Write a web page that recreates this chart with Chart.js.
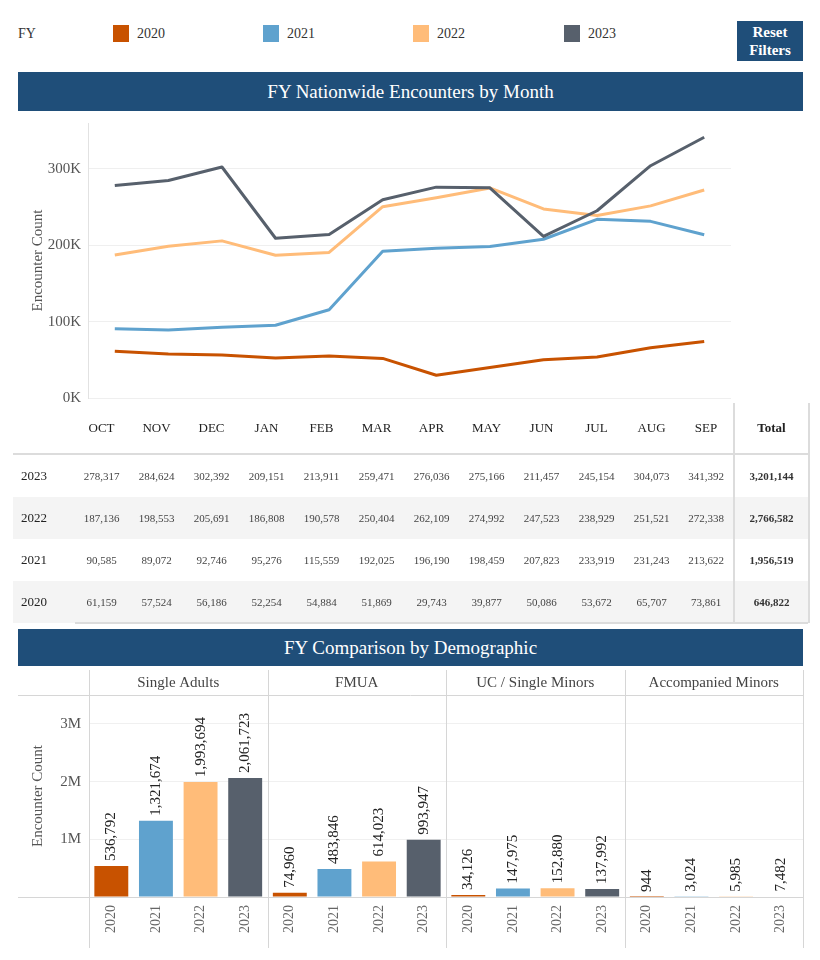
<!DOCTYPE html>
<html>
<head>
<meta charset="utf-8">
<script src="https://cdn.jsdelivr.net/npm/chart.js@4.4.0/dist/chart.umd.min.js"></script>
<style>
  body { margin: 0; width: 820px; height: 960px; position: relative; overflow: hidden; background: #fff;
         font-family: 'Liberation Serif', 'Times New Roman', serif; color: #333; }
  .abs { position: absolute; }
  .legend-label { position: absolute; top: 25px; font-size: 14px; line-height: 18px; color: #333; }
  .swatch { position: absolute; top: 25px; width: 16px; height: 17px; }
  .reset { position: absolute; left: 737px; top: 21px; width: 66px; height: 40px; background: #1f4e79; color: #fff;
           font-weight: bold; font-size: 15px; line-height: 18px; text-align: center; padding-top: 2px; box-sizing: border-box; }
  .titlebar { position: absolute; left: 18px; width: 785px; background: #1f4e79; color: #fff; font-size: 19px; text-align: center; }
  #tbl { position: absolute; left: 13px; top: 403px; border-collapse: collapse; table-layout: fixed; }
  #tbl td { padding: 0; text-align: center; font-size: 11px; color: #444; }
  #tbl tr.head td { height: 50px; font-size: 13px; color: #222; border-bottom: 2px solid #dcdcdc; }
  #tbl tr.row td { height: 42px; }
  #tbl tr.shade td { background: #f4f4f4; }
  #tbl td.lab { text-align: left; padding-left: 8px; font-size: 13px; color: #222; }
  #tbl td.tot { border-left: 2px solid #dcdcdc; border-right: 2px solid #dcdcdc; font-weight: bold; color: #333; background: #fff; }
  #tbl tr.head td.tot { font-size: 13px; }
</style>
</head>
<body>

<div class="legend-label" style="left:18px">FY</div>
<div id="legend"></div>
<div class="reset">Reset<br>Filters</div>

<div class="abs" style="left:0;top:107px;width:740px;height:307px"><canvas id="lineChart"></canvas></div>
<div class="titlebar" style="top:72px;height:39px;line-height:39px">FY Nationwide Encounters by Month</div>

<table id="tbl"></table>
<div class="abs" style="left:75px;top:622px;width:733px;height:2px;background:#dcdcdc"></div>

<div class="titlebar" style="top:629px;height:37px;line-height:37px">FY Comparison by Demographic</div>
<div class="abs" style="left:0;top:668px;width:820px;height:292px"><canvas id="barChart"></canvas></div>

<script>
// data
const months = ['OCT', 'NOV', 'DEC', 'JAN', 'FEB', 'MAR', 'APR', 'MAY', 'JUN', 'JUL', 'AUG', 'SEP']
const fyYears = ['2020', '2021', '2022', '2023']
const fy2020 = [61159, 57524, 56186, 52254, 54884, 51869, 29743, 39877, 50086, 53672, 65707, 73861]
const fy2021 = [90585, 89072, 92746, 95276, 115559, 192025, 196190, 198459, 207823, 233919, 231243, 213622]
const fy2022 = [187136, 198553, 205691, 186808, 190578, 250404, 262109, 274992, 247523, 238929, 251521, 272338]
const fy2023 = [278317, 284624, 302392, 209151, 213911, 259471, 276036, 275166, 211457, 245154, 304073, 341392]
const fyTotals = [646822, 1956519, 2766582, 3201144]
const lineTickValues = [0, 100000, 200000, 300000]
const lineTickLabels = ['0K', '100K', '200K', '300K']

const demoGroups = ['Single Adults', 'FMUA', 'UC / Single Minors', 'Accompanied Minors']
const singleAdults = [536792, 1321674, 1993694, 2061723]
const fmua = [74960, 483846, 614023, 993947]
const ucMinors = [34126, 147975, 152880, 137992]
const accMinors = [944, 3024, 5985, 7482]
const barTickValues = [0, 1000000, 2000000, 3000000]
const barTickLabels = ['', '1M', '2M', '3M']

const fyColors = ['#c85200', '#5fa2ce', '#ffbc79', '#57606c']
const serif = "'Liberation Serif', 'Times New Roman', serif"
const fmt = (v) => v.toLocaleString('en-US')

// legend
const legendX = [113, 263, 413, 564]
let lg = ''
fyYears.forEach((y, i) => {
  lg += `<div class="swatch" style="left:${legendX[i]}px;background:${fyColors[i]}"></div>`
  lg += `<div class="legend-label" style="left:${legendX[i] + 24}px">${y}</div>`
})
document.getElementById('legend').innerHTML = lg

// table
const series = [fy2020, fy2021, fy2022, fy2023]
let html = '<colgroup><col style="width:61px">' + months.map(() => '<col style="width:55px">').join('') + '<col style="width:75px"></colgroup>'
html += '<tr class="head"><td></td>' + months.map((m) => `<td>${m}</td>`).join('') + '<td class="tot">Total</td></tr>'
for (let r = 3; r >= 0; r--) {
  const cls = r % 2 === 1 ? 'row' : 'row shade'
  html += `<tr class="${cls}"><td class="lab">${fyYears[r]}</td>` + series[r].map((v) => `<td>${fmt(v)}</td>`).join('') + `<td class="tot">${fmt(fyTotals[r])}</td></tr>`
}
document.getElementById('tbl').innerHTML = html

// line chart
new Chart(document.getElementById('lineChart'), {
  type: 'line',
  data: {
    labels: months,
    datasets: [3, 2, 1, 0].map((i) => ({
      label: fyYears[i],
      data: series[i],
      borderColor: fyColors[i],
      backgroundColor: fyColors[i],
      borderWidth: 3,
      pointRadius: 0,
      tension: 0,
      borderJoinStyle: 'round',
    })),
  },
  options: {
    responsive: true,
    maintainAspectRatio: false,
    animation: false,
    layout: { padding: { top: 0, bottom: 0, right: 9, left: 0 } },
    plugins: { legend: { display: false }, tooltip: { enabled: false } },
    scales: {
      x: { display: false, offset: true },
      y: {
        min: 0,
        max: 360000,
        ticks: {
          padding: 7,
          color: '#555',
          font: { family: serif, size: 15 },
          callback: (v, i) => lineTickLabels[i],
        },
        afterBuildTicks: (s) => { s.ticks = lineTickValues.map((v) => ({ value: v })) },
        afterFit: (s) => { s.width = 88 },
        grid: { color: '#efefef', drawTicks: false },
        border: { color: '#e2e2e2' },
        title: { display: true, text: 'Encounter Count', color: '#555', font: { family: serif, size: 15 }, padding: { top: 29 } },
      },
    },
  },
})

// bar chart
const panelPlugin = {
  id: 'panels',
  afterDraw(chart) {
    const { ctx, chartArea: a, scales: { x } } = chart
    const n = fyYears.length
    const edges = [a.left]
    for (let k = 1; k < demoGroups.length; k++) {
      edges.push((x.getPixelForValue(k * n - 1) + x.getPixelForValue(k * n)) / 2)
    }
    edges.push(a.right)
    ctx.save()
    ctx.strokeStyle = '#d6d6d6'
    ctx.lineWidth = 1
    ctx.beginPath()
    ctx.moveTo(18, Math.round(a.top) + 0.5)
    ctx.lineTo(a.right, Math.round(a.top) + 0.5)
    ctx.moveTo(18, Math.round(a.bottom) + 0.5)
    ctx.lineTo(a.right, Math.round(a.bottom) + 0.5)
    edges.forEach((e) => {
      ctx.moveTo(Math.round(e) + 0.5, 2)
      ctx.lineTo(Math.round(e) + 0.5, 280)
    })
    ctx.stroke()
    ctx.fillStyle = '#444'
    ctx.font = `15px ${serif}`
    ctx.textAlign = 'center'
    ctx.textBaseline = 'middle'
    demoGroups.forEach((g, k) => ctx.fillText(g, (edges[k] + edges[k + 1]) / 2, 15))

    // value labels
    const meta = chart.getDatasetMeta(0)
    const vals = chart.data.datasets[0].data
    ctx.fillStyle = '#222'
    ctx.font = `15px ${serif}`
    ctx.textAlign = 'left'
    meta.data.forEach((bar, i) => {
      ctx.save()
      ctx.translate(bar.x, bar.y - 5)
      ctx.rotate(-Math.PI / 2)
      ctx.fillText(fmt(vals[i]), 0, 0)
      ctx.restore()
    })
    ctx.restore()
  },
}

new Chart(document.getElementById('barChart'), {
  type: 'bar',
  data: {
    labels: demoGroups.flatMap(() => fyYears),
    datasets: [{
      data: [...singleAdults, ...fmua, ...ucMinors, ...accMinors],
      backgroundColor: demoGroups.flatMap(() => fyColors),
      barPercentage: 0.76,
      categoryPercentage: 1,
    }],
  },
  options: {
    responsive: true,
    maintainAspectRatio: false,
    animation: false,
    layout: { padding: { top: 27, bottom: 13, right: 17, left: 0 } },
    plugins: { legend: { display: false }, tooltip: { enabled: false } },
    scales: {
      x: {
        grid: { display: false },
        border: { display: false },
        ticks: { autoSkip: false, minRotation: 90, maxRotation: 90, padding: 0, color: '#666', font: { family: serif, size: 14 } },
        afterFit: (s) => { s.height = 50 },
      },
      y: {
        min: 0,
        max: 3500000,
        ticks: {
          padding: 8,
          color: '#555',
          font: { family: serif, size: 15 },
          callback: (v, i) => barTickLabels[i],
        },
        afterBuildTicks: (s) => { s.ticks = barTickValues.map((v) => ({ value: v })) },
        afterFit: (s) => { s.width = 89 },
        grid: { color: '#f0f0f0', drawTicks: false },
        border: { display: false },
        title: { display: true, text: 'Encounter Count', color: '#555', font: { family: serif, size: 15 }, padding: { top: 29 } },
      },
    },
  },
  plugins: [panelPlugin],
})
</script>
</body>
</html>
